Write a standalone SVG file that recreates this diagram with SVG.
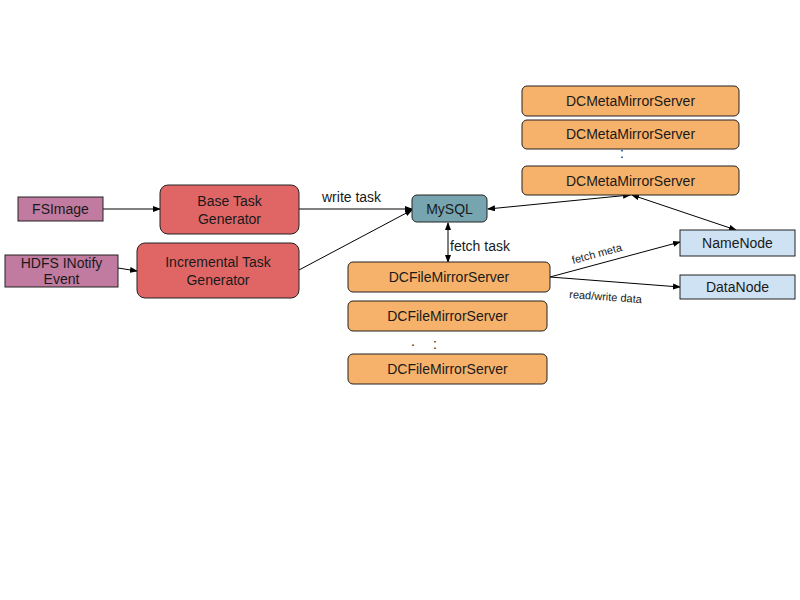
<svg xmlns="http://www.w3.org/2000/svg" width="800" height="600" viewBox="0 0 800 600">
<defs>
<marker id="ah" markerWidth="8" markerHeight="6" refX="7" refY="3" orient="auto-start-reverse" markerUnits="userSpaceOnUse">
<path d="M0,0 L8,3 L0,6 z" fill="#000"/>
</marker>
<style>
text{font-family:"Liberation Sans",Arial,sans-serif;fill:#1a1a1a}
.t{font-size:14px;text-anchor:middle}
.l{font-size:14px}
.s{font-size:11px}
.purple{fill:#c27ba0;stroke:#222;stroke-width:1}
.red{fill:#e06666;stroke:#222;stroke-width:1}
.teal{fill:#76a5af;stroke:#222;stroke-width:1}
.orange{fill:#f6b26b;stroke:#222;stroke-width:1}
.blue{fill:#cfe2f3;stroke:#222;stroke-width:1}
.c{stroke:#000;stroke-width:1;fill:none}
</style>
</defs>
<rect width="800" height="600" fill="#fff"/>
<g id="connectors">
<line class="c" x1="103" y1="209" x2="160" y2="209" marker-end="url(#ah)"/>
<line class="c" x1="118" y1="268" x2="137" y2="271" marker-end="url(#ah)"/>
<line class="c" x1="299" y1="209" x2="412" y2="209" marker-end="url(#ah)"/>
<line class="c" x1="299" y1="270" x2="412" y2="210" marker-end="url(#ah)"/>
<line class="c" x1="448" y1="223" x2="448" y2="262" marker-start="url(#ah)" marker-end="url(#ah)"/>
<line class="c" x1="488" y1="209" x2="630" y2="195" marker-start="url(#ah)" marker-end="url(#ah)"/>
<line class="c" x1="632" y1="195" x2="736" y2="230" marker-start="url(#ah)" marker-end="url(#ah)"/>
<line class="c" x1="550" y1="277" x2="680" y2="242" marker-end="url(#ah)"/>
<line class="c" x1="550" y1="277" x2="680" y2="287" marker-end="url(#ah)"/>
<text class="l" x="322" y="202">write task</text>
<text class="l" x="450" y="251">fetch task</text>
<text class="s" transform="translate(573,264) rotate(-15)">fetch meta</text>
<text class="s" transform="translate(569,298) rotate(4)">read/write data</text>
</g>
<g id="fsimage"><rect class="purple" x="18" y="197" width="85" height="24"/><text class="t" x="60.5" y="214">FSImage</text></g>
<g id="hdfs"><rect class="purple" x="5" y="255" width="113" height="32"/><text class="t" x="61.5" y="268">HDFS INotify</text><text class="t" x="61.5" y="284">Event</text></g>
<g id="base"><rect class="red" x="160" y="185" width="139" height="49" rx="8"/><text class="t" x="229.5" y="206">Base Task</text><text class="t" x="229.5" y="224">Generator</text></g>
<g id="incremental"><rect class="red" x="137" y="243" width="162" height="55" rx="8"/><text class="t" x="218" y="267">Incremental Task</text><text class="t" x="218" y="285">Generator</text></g>
<g id="mysql"><rect class="teal" x="412" y="195" width="75" height="27" rx="5"/><text class="t" x="449.5" y="214">MySQL</text></g>
<g id="fms1"><rect class="orange" x="348" y="262" width="202" height="30" rx="5"/><text class="t" x="449" y="282">DCFileMirrorServer</text></g>
<g id="fms2"><rect class="orange" x="348" y="301" width="199" height="30" rx="5"/><text class="t" x="447.5" y="321">DCFileMirrorServer</text></g>
<g id="fmsdots"><text class="t" x="413" y="346">.</text><text class="t" x="435" y="349">:</text></g>
<g id="fms3"><rect class="orange" x="348" y="354" width="199" height="30" rx="5"/><text class="t" x="447.5" y="374">DCFileMirrorServer</text></g>
<g id="mms1"><rect class="orange" x="522" y="86" width="217" height="30" rx="5"/><text class="t" x="630.5" y="106">DCMetaMirrorServer</text></g>
<g id="mms2"><rect class="orange" x="522" y="120" width="217" height="29" rx="5"/><text class="t" x="630.5" y="139">DCMetaMirrorServer</text></g>
<g id="mmsdots"><text class="t" x="622" y="158">:</text></g>
<g id="mms3"><rect class="orange" x="522" y="166" width="217" height="29" rx="5"/><text class="t" x="630.5" y="186">DCMetaMirrorServer</text></g>
<g id="namenode"><rect class="blue" x="680" y="230" width="115" height="26"/><text class="t" x="737.5" y="248">NameNode</text></g>
<g id="datanode"><rect class="blue" x="680" y="275" width="115" height="24"/><text class="t" x="737.5" y="292">DataNode</text></g>
</svg>
